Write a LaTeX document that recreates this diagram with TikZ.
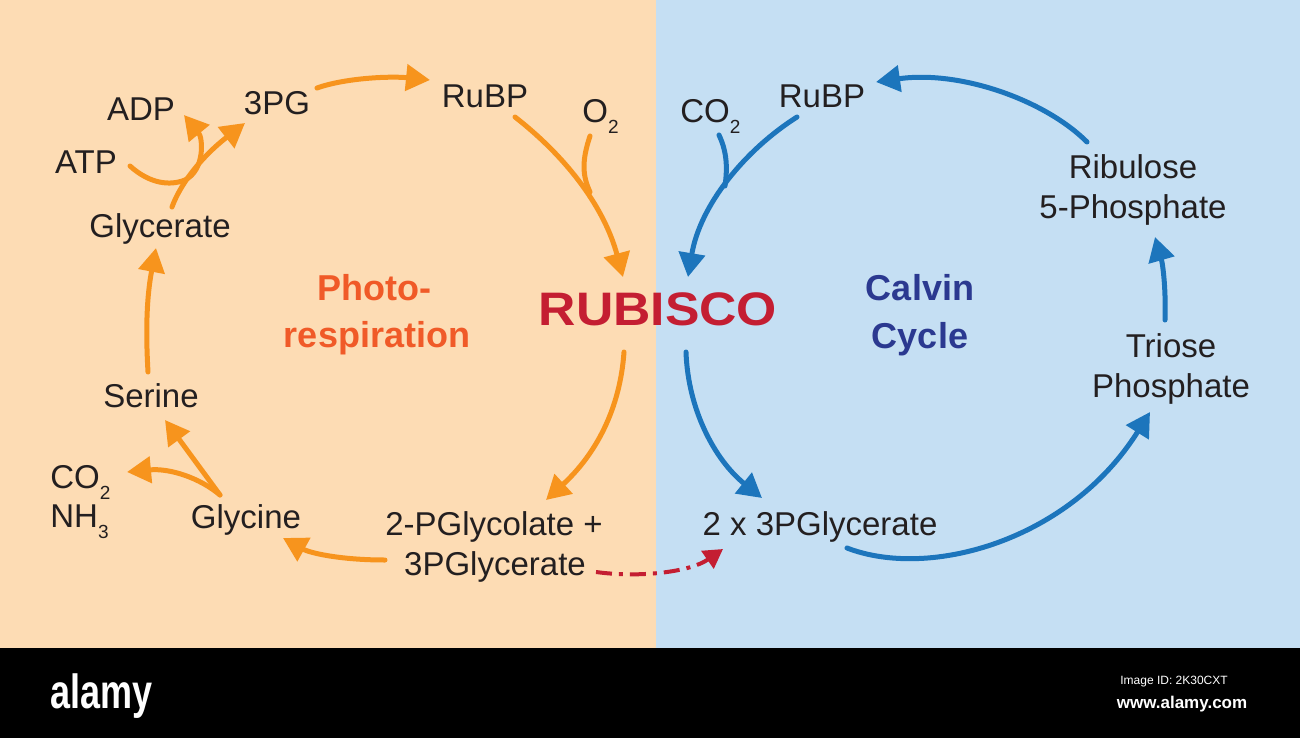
\documentclass[tikz,border=0pt]{standalone}
\usepackage{fontspec}
\setmainfont{Liberation Sans}
\usepackage{graphicx}
\usetikzlibrary{arrows.meta}
\definecolor{peach}{RGB}{253,220,180}
\definecolor{sky}{RGB}{197,223,243}
\definecolor{orng}{RGB}{247,148,29}
\definecolor{blu}{RGB}{28,117,188}
\definecolor{rubred}{RGB}{196,30,50}
\definecolor{photo}{RGB}{240,90,40}
\definecolor{calvin}{RGB}{43,57,144}
\definecolor{txt}{RGB}{35,31,32}
\newcommand\lowsub[1]{\raisebox{-0.34em}{\fontsize{9.5}{10}\selectfont #1}}
\begin{document}
\begin{tikzpicture}[x=0.5pt,y=-0.5pt,
  lbl/.style={font=\fontsize{16.5}{19}\selectfont, text=txt, inner sep=0pt, anchor=base},
  big/.style={font=\bfseries\fontsize{18}{21}\selectfont, inner sep=0pt, anchor=base},
  rub/.style={font=\bfseries\fontsize{23.5}{26}\selectfont, text=rubred, inner sep=0pt, anchor=base},
  foot/.style={text=white, inner sep=0pt, anchor=base},
  oline/.style={draw=orng, line width=2.5pt, line cap=round},
  oarr/.style={oline, -{Triangle[length=12pt,width=13pt]}},
  bline/.style={draw=blu, line width=2.5pt, line cap=round},
  barr/.style={bline, -{Triangle[length=12pt,width=13pt]}},
  rarr/.style={draw=rubred, line width=2pt, dash pattern=on 8pt off 3.5pt on 2pt off 3.5pt, -{Triangle[length=9.5pt,width=10.5pt]}}
]
\useasboundingbox (0,0) rectangle (1300,738);
\fill[peach] (0,0) rectangle (656,648);
\fill[sky] (656,0) rectangle (1300,648);
\fill[black] (0,648) rectangle (1300,738);

% labels
\node[lbl] (adp) at (141,120) {ADP};
\node[lbl] (pg3) at (277,115) {3PG};
\node[lbl] (atp) at (86,173) {ATP};
\node[lbl] (glyc) at (160,237) {Glycerate};
\node[lbl] (rubpL) at (485,108) {RuBP};
\node[lbl,anchor=base west] (o2) at (582,122) {O\lowsub{2}};
\node[lbl,anchor=base west] (co2R) at (680,122) {CO\lowsub{2}};
\node[lbl] (rubpR) at (822,108) {RuBP};
\node[lbl] (riba) at (1133,178) {Ribulose};
\node[lbl] (ribb) at (1133,218) {5-Phosphate};
\node[lbl] (tria) at (1171,357) {Triose};
\node[lbl] (trib) at (1171,397) {Phosphate};
\node[lbl] (ser) at (151,407) {Serine};
\node[lbl,anchor=base west] (co2L) at (50,488) {CO\lowsub{2}};
\node[lbl,anchor=base west] (nh3) at (50,527) {NH\lowsub{3}};
\node[lbl] (gly) at (246,528) {Glycine};
\node[lbl] (pgla) at (494,535) {2-PGlycolate +};
\node[lbl] (pglb) at (495,575) {3PGlycerate};
\node[lbl] (pg2) at (820,535) {2 x 3PGlycerate};
\node[big,text=photo] (pha) at (374,300) {Photo-};
\node[big,text=photo] (phb) at (377,347) {respiration};
\node[big,text=calvin] (cala) at (920,300) {Calvin};
\node[big,text=calvin] (calb) at (920,348) {Cycle};
\node[rub] (rub) at (658,325) {\scalebox{1.1}[1]{RUBISCO}};

% connector end points
\coordinate (pg3out) at (317,88);
\coordinate (rubpLin) at (430,80);
\coordinate (rubpLout) at (515,117);
\coordinate (rubOin) at (623,277);
\coordinate (o2out) at (590,136);
\coordinate (o2join) at (590,192);
\coordinate (rubOout) at (624,352);
\coordinate (pglain) at (546,500);
\coordinate (pglbout) at (385,560);
\coordinate (glyin) at (283,538);
\coordinate (glyout) at (220,495);
\coordinate (serin) at (165,420);
\coordinate (co2Lin) at (127,472);
\coordinate (serout) at (148,372);
\coordinate (glycin) at (156,248);
\coordinate (glycout) at (172,207);
\coordinate (pg3in) at (245,123);
\coordinate (atpout) at (130,166);
\coordinate (adpin) at (184,115);
\coordinate (rubpRout) at (797,117);
\coordinate (rubBin) at (688,277);
\coordinate (co2Rout) at (719,135);
\coordinate (co2Rjoin) at (725,186);
\coordinate (riba_out) at (1087,142);
\coordinate (rubpRin) at (876,82);
\coordinate (triout) at (1165,320);
\coordinate (ribbin) at (1155,237);
\coordinate (pg2out) at (847,548);
\coordinate (tribin) at (1150,412);
\coordinate (rubBout) at (686,352);
\coordinate (pg2in) at (762,498);
\coordinate (pglbdash) at (596,572);
\coordinate (pg2dash) at (723,549);

% orange (photorespiration)
\draw[oarr] (pg3out) .. controls (345,78) and (390,76) .. (rubpLin);
\draw[oarr] (rubpLout) .. controls (570,160) and (605,210) .. (rubOin);
\draw[oline] (o2out) .. controls (582,160) and (582,175) .. (o2join);
\draw[oarr] (rubOout) .. controls (620,410) and (595,455) .. (pglain);
\draw[oarr] (pglbout) .. controls (340,560) and (310,553) .. (glyin);
\draw[oarr] (glyout) -- (serin);
\draw[oarr] (glyout) .. controls (200,478) and (170,468) .. (co2Lin);
\draw[oarr] (serout) .. controls (145,320) and (148,290) .. (glycin);
\draw[oarr] (glycout) .. controls (180,185) and (200,158) .. (pg3in);
\draw[oarr] (atpout) .. controls (150,184) and (170,186) .. (185,180) .. controls (205,170) and (203,138) .. (adpin);

% blue (Calvin cycle)
\draw[barr] (rubpRout) .. controls (745,150) and (700,205) .. (rubBin);
\draw[bline] (co2Rout) .. controls (726,150) and (728,165) .. (co2Rjoin);
\draw[barr] (rubBout) .. controls (688,410) and (715,460) .. (pg2in);
\draw[barr] (pg2out) .. controls (930,580) and (1070,540) .. (tribin);
\draw[barr] (triout) .. controls (1166,290) and (1163,265) .. (ribbin);
\draw[barr] (riba_out) .. controls (1045,100) and (960,70) .. (rubpRin);

% red dashed
\draw[rarr] (pglbdash) .. controls (640,578) and (690,572) .. (pg2dash);

% footer
\node[foot,anchor=base west,font=\bfseries\fontsize{24}{24}\selectfont] (logo) at (50,708) {\scalebox{0.75}[1]{alamy}};
\node[foot,font=\fontsize{6}{7}\selectfont] (imgid) at (1174,684) {Image ID: 2K30CXT};
\node[foot,font=\bfseries\fontsize{8.5}{9}\selectfont] (www) at (1182,708) {www.alamy.com};
\end{tikzpicture}
\end{document}
